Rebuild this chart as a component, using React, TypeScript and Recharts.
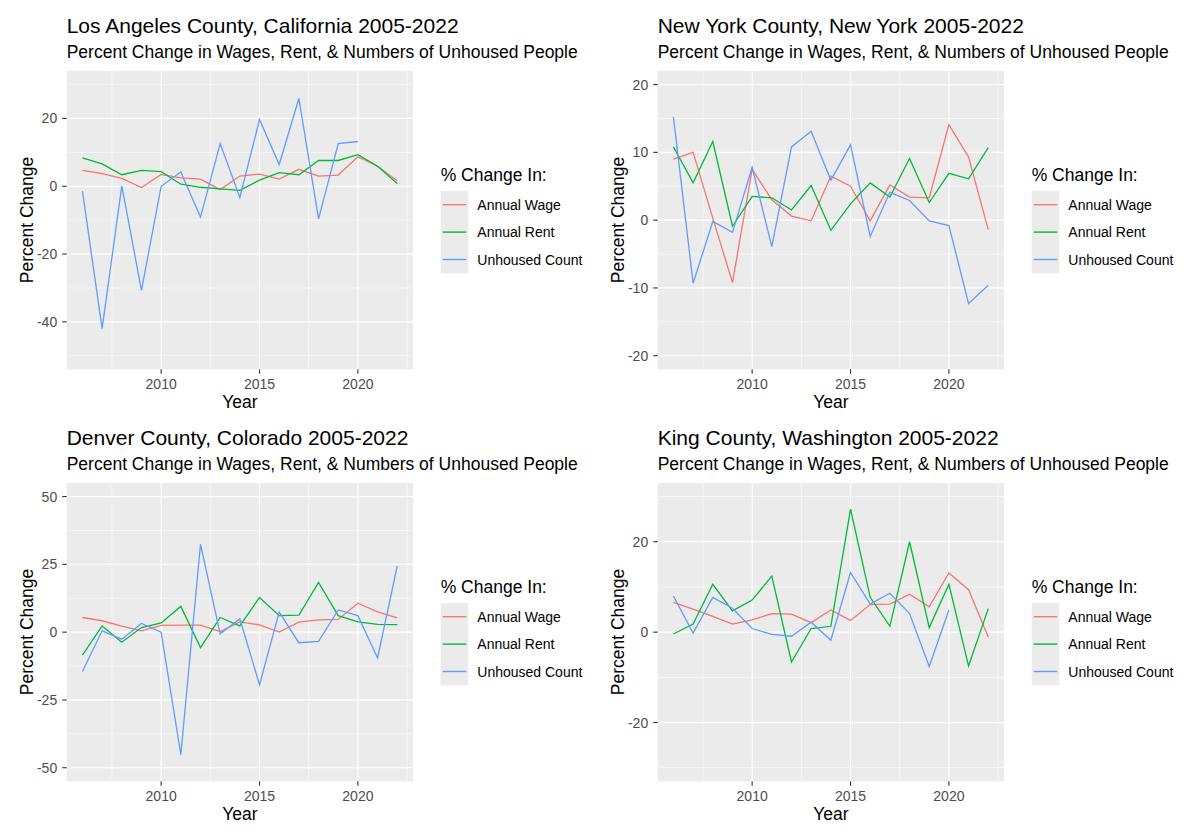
import React from 'react';
import { LineChart, Line, XAxis, YAxis, CartesianGrid } from 'recharts';

const years = [2006, 2007, 2008, 2009, 2010, 2011, 2012, 2013, 2014, 2015, 2016, 2017, 2018, 2019, 2020, 2021, 2022];
const xTicks = [2010, 2015, 2020];
const xMinor = [2007.5, 2012.5, 2017.5, 2022.5];

const laWage = [4.7, 3.7, 2.3, -0.4, 3.5, 2.5, 2.1, -1.0, 3.0, 3.6, 2.1, 5.0, 3.0, 3.3, 8.7, 5.9, 1.6];
const laRent = [8.4, 6.6, 3.4, 4.7, 4.3, 0.6, -0.3, -0.8, -1.2, 1.8, 4.0, 3.4, 7.6, 7.6, 9.3, 5.9, 0.8];
const laUnhoused = [-1.4, -42.0, 0.1, -30.7, 0.0, 4.2, -9.1, 12.6, -3.3, 19.7, 6.4, 25.9, -9.6, 12.6, 13.2, null, null];

const nyWage = [9.0, 10.0, 0.3, -9.2, 7.5, 3.0, 0.6, -0.1, 6.5, 5.0, -0.1, 5.2, 3.4, 3.3, 14.1, 9.3, -1.4];
const nyRent = [10.8, 5.5, 11.6, -0.9, 3.5, 3.3, 1.5, 5.1, -1.5, 2.4, 5.5, 3.4, 9.1, 2.6, 6.9, 6.1, 10.7];
const nyUnhoused = [15.2, -9.3, -0.2, -1.8, 7.8, -3.9, 10.8, 13.1, 5.9, 11.1, -2.4, 4.1, 2.9, -0.1, -0.8, -12.3, -9.6];

const denWage = [5.4, 4.2, 2.2, 0.5, 2.5, 2.6, 2.6, 0.2, 3.8, 2.7, 0.0, 3.7, 4.5, 4.7, 10.7, 7.5, 5.3];
const denRent = [-8.5, 2.3, -3.7, 1.7, 3.4, 9.5, -5.7, 5.4, 2.3, 12.8, 6.1, 6.3, 18.3, 6.1, 3.8, 2.9, 2.8];
const denUnhoused = [-14.5, 0.5, -2.6, 3.2, 0.0, -45.2, 32.4, -0.6, 4.9, -19.4, 7.4, -3.9, -3.4, 8.2, 6.1, -9.5, 24.4];

const kingWage = [6.6, 5.1, 3.5, 1.8, 2.7, 4.1, 4.0, 2.1, 4.9, 2.6, 6.1, 6.2, 8.4, 5.6, 13.1, 9.4, -1.1];
const kingRent = [-0.4, 1.8, 10.6, 4.7, 7.1, 12.4, -6.6, 0.8, 1.3, 27.2, 7.7, 1.3, 20.0, 1.0, 10.6, -7.5, 5.2];
const kingUnhoused = [8.0, -0.2, 7.7, 5.3, 0.8, -0.5, -0.9, 2.2, -1.8, 13.2, 6.2, 8.6, 4.1, -7.6, 4.9, null, null];

const subtitle = 'Percent Change in Wages, Rent, & Numbers of Unhoused People';
const seriesNames = ['Annual Wage', 'Annual Rent', 'Unhoused Count'];
const seriesColors = ['#F8766D', '#00BA38', '#619CFF'];

type PanelProps = {
  ox: number;
  oy: number;
  title: string;
  wage: (number | null)[];
  rent: (number | null)[];
  unhoused: (number | null)[];
  domain: [number, number];
  majors: number[];
  minors: number[];
};

const FONT = '"Liberation Sans", Arial, Helvetica, sans-serif';

function Panel({ ox, oy, title, wage, rent, unhoused, domain, majors, minors }: PanelProps) {
  const data = years.map((y, i) => ({ year: y, wage: wage[i], rent: rent[i], unhoused: unhoused[i] }));
  const W = 591;
  const H = 411;
  return (
    <div style={{ position: 'absolute', left: ox, top: oy, width: W, height: H }}>
      <LineChart width={W} height={H} data={data} margin={{ top: 71, right: 178, bottom: 11.7, left: 0 }}>
        <CartesianGrid
          fill="#EBEBEB"
          fillOpacity={1}
          stroke="#FFFFFF"
          strokeWidth={0.6}
          horizontalValues={minors}
          verticalValues={xMinor}
          syncWithTicks
        />
        <CartesianGrid
          stroke="#FFFFFF"
          strokeWidth={1.2}
          horizontalValues={majors}
          verticalValues={xTicks}
          syncWithTicks
        />
        <XAxis
          dataKey="year"
          type="number"
          domain={[2005.2, 2022.8]}
          ticks={xTicks}
          allowDataOverflow
          axisLine={false}
          tickSize={4.5}
          tickMargin={5}
          tickLine={{ stroke: '#333333', strokeWidth: 1.1 }}
          tick={{ fill: '#4D4D4D', fontSize: 14 }}
          height={30}
        />
        <YAxis
          type="number"
          domain={domain}
          ticks={majors}
          allowDataOverflow
          axisLine={false}
          tickSize={4.5}
          tickMargin={5}
          tickLine={{ stroke: '#333333', strokeWidth: 1.1 }}
          tick={{ fill: '#4D4D4D', fontSize: 14 }}
          width={66.7}
        />
        <Line type="linear" dataKey="wage" stroke={seriesColors[0]} strokeWidth={1.3} dot={false} isAnimationActive={false} />
        <Line type="linear" dataKey="rent" stroke={seriesColors[1]} strokeWidth={1.3} dot={false} isAnimationActive={false} />
        <Line type="linear" dataKey="unhoused" stroke={seriesColors[2]} strokeWidth={1.3} dot={false} isAnimationActive={false} />
      </LineChart>
      <svg width={W} height={H} style={{ position: 'absolute', left: 0, top: 0, pointerEvents: 'none' }}>
        <text x={66.7} y={33.3} fontSize={21} fill="#000">{title}</text>
        <text x={66.7} y={58.3} fontSize={17.5} fill="#000">{subtitle}</text>
        <text transform="translate(33.3,220) rotate(-90)" textAnchor="middle" fontSize={17.5} fill="#000">Percent Change</text>
        <text x={239.9} y={407.7} textAnchor="middle" fontSize={17.5} fill="#000">Year</text>
        <text x={440.7} y={180.7} fontSize={17.5} fill="#000">% Change In:</text>
        <rect x={440.7} y={191} width={27.6} height={82.3} fill="#EBEBEB" />
        {seriesNames.map((name, i) => (
          <g key={name}>
            <line x1={442.7} x2={466.3} y1={204.7 + i * 27.4} y2={204.7 + i * 27.4} stroke={seriesColors[i]} strokeWidth={1.4} />
            <text x={477.3} y={204.7 + i * 27.4} dominantBaseline="central" fontSize={14} fill="#000">{name}</text>
          </g>
        ))}
      </svg>
    </div>
  );
}

export default function App() {
  return (
    <div style={{ position: 'absolute', left: 0, top: 0, width: 1200, height: 840, background: '#FFFFFF', fontFamily: FONT, overflow: 'hidden' }}>
      <Panel ox={0} oy={0} title="Los Angeles County, California 2005-2022" wage={laWage} rent={laRent} unhoused={laUnhoused}
        domain={[-54, 34]} majors={[-40, -20, 0, 20]} minors={[-50, -30, -10, 10, 30]} />
      <Panel ox={591} oy={0} title="New York County, New York 2005-2022" wage={nyWage} rent={nyRent} unhoused={nyUnhoused}
        domain={[-22, 22]} majors={[-20, -10, 0, 10, 20]} minors={[-15, -5, 5, 15]} />
      <Panel ox={0} oy={411.5} title="Denver County, Colorado 2005-2022" wage={denWage} rent={denRent} unhoused={denUnhoused}
        domain={[-55, 55]} majors={[-50, -25, 0, 25, 50]} minors={[-37.5, -12.5, 12.5, 37.5]} />
      <Panel ox={591} oy={411.5} title="King County, Washington 2005-2022" wage={kingWage} rent={kingRent} unhoused={kingUnhoused}
        domain={[-33, 33]} majors={[-20, 0, 20]} minors={[-30, -10, 10, 30]} />
    </div>
  );
}
